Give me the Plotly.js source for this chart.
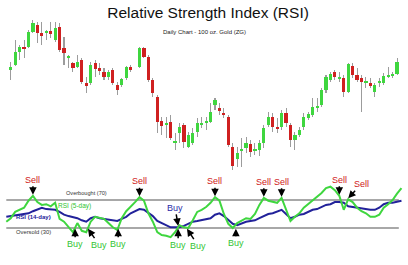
<!DOCTYPE html>
<html><head><meta charset="utf-8">
<script src="https://cdn.plot.ly/plotly-3.0.1.min.js"></script>
<style>html,body{margin:0;padding:0;background:#fff}#chart{width:408px;height:265px}</style>
</head><body><div id="chart"></div>
<script>
// Daily candles (trading-day index; day 29 had no bar)
const days  = [1,2,3,4,5,6,7,8,9,10,11,12,13,14,15,16,17,18,19,20,21,22,23,24,25,26,27,28,
               30,31,32,33,34,35,36,37,38,39,40,41,42,43,44,45,46,47,48,49,50,51,52,53,54,55,56,57,58,59,
               60,61,62,63,64,65,66,67,68,69,70,71,72,73,74,75,76,77,78,79,80,81,82,83,84,85,86,87,88];
const open  = [930,935,948,953,953,968,975,967,967,969,960,973,952,942,937,933,940,917,917,937,932,928,923,930,915,915,922,933,
               933,952,943,920,903,879,875,878,857,867,875,853,857,868,875,877,878,895,892,887,883,853,841,849,852,856,849,850,857,875,
               883,873,873,887,875,860,865,873,882,885,892,895,910,920,928,921,922,908,934,925,922,917,917,908,917,917,923,924,926];
const high  = [938,960,955,960,970,980,978,978,970,978,978,977,963,945,938,945,942,923,938,940,937,932,930,932,918,922,934,935,
               953,953,945,922,905,883,883,885,867,877,877,868,872,882,883,883,897,902,897,892,885,857,853,862,863,860,857,860,875,888,
               887,882,890,892,877,868,873,887,888,902,902,912,925,928,930,928,925,937,937,932,925,923,922,917,922,927,933,928,942];
const low   = [920,934,940,942,952,967,957,955,960,962,958,948,935,932,928,932,916,907,915,923,925,920,920,915,905,913,920,928,
               932,942,918,903,867,865,862,860,850,857,852,852,855,863,872,870,877,890,885,882,853,830,833,833,847,843,845,844,852,873,
               868,867,870,873,853,850,863,870,880,883,888,893,907,918,920,918,903,907,922,918,888,912,912,903,913,915,922,922,925];
const close = [933,948,953,951,968,977,967,964,968,966,972,950,947,943,932,938,918,914,935,931,929,923,928,917,910,921,933,930,
               952,943,920,907,878,874,877,862,859,873,858,865,867,877,877,878,888,900,889,885,855,834,847,851,857,848,851,857,872,883,
               873,871,887,877,860,865,870,883,886,893,894,910,923,926,923,923,908,936,925,920,918,918,914,915,918,924,925,925,938];

// RSI readings, one per day from day 0 to day 89
const rsi5  = [39,44,53,56,59,69,76,67,63,64, 61,66,43,39,31,24,37,26,24,39, 46,44,43,37,31,27,44,54,60,67,
               74,69,51,39,24,20,19,17,24,34, 31,30,41,53,56,60,66,74,69,50, 36,30,37,41,44,43,50,63,73,69,
               67,66,73,56,40,46,51,59,64,70, 74,80,87,89,84,76,56,71,67,59, 54,51,46,46,49,59,64,70,79,87];
const rsi14 = [46,47,49,49,50,51,54,57,59,57, 56,56,53,49,47,46,44,41,39,44, 46,44,43,41,41,40,43,46,51,54,
               57,56,51,47,40,37,34,31,31,31, 33,36,39,40,41,43,44,49,51,47, 41,36,34,37,39,40,41,44,47,50,
               51,54,56,50,44,46,49,50,53,56, 57,60,63,64,67,67,66,61,60,59, 57,56,56,56,59,64,66,66,67,69];
const levels = [70, 30];
const sellDays = [6, 30, 47, 58, 62, 75, 77];
const buyDays  = [15.5, 18.4, 25.2, 38.7, 40.7, 51.7];
const blueBuyDay = 38.7;

const rsiDays = rsi5.map((_, i) => i);
const isUp = close.map((c, i) => c >= open[i]);
const bodyBase = close.map((c, i) => Math.min(c, open[i]));
const bodyLen = close.map((c, i) => Math.max(Math.abs(c - open[i]), 1.5));
const wickLen = high.map((h, i) => h - low[i]);

const GREEN = '#3fd63f', RED = '#cf2020', NAVY = '#22229a';
const FONT = 'Liberation Sans, Arial, sans-serif';

const traces = [
  {type:'bar', x:days, y:wickLen, base:low, width:0.24, marker:{color:'#9c9c9c'}, xaxis:'x', yaxis:'y', hoverinfo:'skip'},
  {type:'bar', x:days, y:bodyLen, base:bodyBase, width:0.72,
   marker:{color:isUp.map(u => u ? GREEN : RED)}, xaxis:'x', yaxis:'y'},
  {type:'scatter', mode:'lines', x:rsiDays, y:rsi14, line:{color:NAVY, width:2}, xaxis:'x', yaxis:'y2'},
  {type:'scatter', mode:'lines', x:rsiDays, y:rsi5, line:{color:GREEN, width:2}, xaxis:'x', yaxis:'y2'}
];

const ann = [];
ann.push({xref:'paper', yref:'paper', x:0.501, y:0.898, text:'Daily Chart - 100 oz. Gold (ZG)', showarrow:false,
          font:{family:FONT, size:6, color:'#222'}});
ann.push({xref:'x', yref:'y2', x:17.95, y:80, text:'Overbought (70)', showarrow:false, font:{family:FONT, size:5.6, color:'#333'}});
ann.push({xref:'x', yref:'y2', x:6.2, y:24.3, text:'Oversold (30)', showarrow:false, font:{family:FONT, size:5.8, color:'#333'}});
ann.push({xref:'x', yref:'y2', x:15.4, y:61.4, text:'RSI (5-day)', showarrow:false, font:{family:FONT, size:6.5, color:'#2fc42f'}});
ann.push({xref:'x', yref:'y2', x:6.1, y:45.7, text:'<b>RSI (14-day)</b>', showarrow:false, font:{family:FONT, size:6, color:NAVY}});

const arrowStyle = {showarrow:true, arrowhead:2, arrowsize:1, arrowwidth:1.5, arrowcolor:'#000', standoff:0};
sellDays.forEach((d, i) => {
  const last = i === sellDays.length - 1;
  ann.push(Object.assign({xref:'x', yref:'y2', x:d, y:rsi5[d] + 1.5, ax:last ? 13 : 0, ay:last ? -14 : -15,
    text:'Sell', font:{family:FONT, size:9, color:RED}}, arrowStyle));
});
const buyOffsets = [[0,15],[11,16],[0,15],[0,16],[11,17],[0,14]];
buyDays.forEach((d, i) => {
  ann.push(Object.assign({xref:'x', yref:'y2', x:d, y:29, ax:buyOffsets[i][0], ay:buyOffsets[i][1],
    text:'Buy', font:{family:FONT, size:9, color:'#34c434'}}, arrowStyle));
});
ann.push(Object.assign({xref:'x', yref:'y2', x:blueBuyDay, y:33, ax:-3, ay:-18,
  text:'Buy', font:{family:FONT, size:9, color:'#2a2aa8'}}, arrowStyle));

const shapes = levels.map(v => ({type:'line', xref:'x', yref:'y2', x0:0, x1:88.4, y0:v, y1:v,
  line:{color:'#a8a8a8', width:2}, layer:'below'}));

const hidden = {showgrid:false, zeroline:false, showticklabels:false, showline:false, ticks:'', fixedrange:true};
const layout = {
  width:408, height:265, margin:{l:0, r:0, t:0, b:0}, paper_bgcolor:'#fff', plot_bgcolor:'rgba(0,0,0,0)',
  showlegend:false, barmode:'overlay', bargap:0,
  title:{text:'Relative Strength Index (RSI)', x:0.51, y:0.951, xanchor:'center', yanchor:'middle',
         font:{family:FONT, size:15.5, color:'#111'}},
  xaxis:Object.assign({range:[-1.42, 90.47], rangeslider:{visible:false}}, hidden),
  yaxis:Object.assign({domain:[0.3396, 0.9434], range:[825, 985]}, hidden),
  yaxis2:Object.assign({domain:[0, 0.3396], range:[-22.86, 105.71], anchor:'x'}, hidden),
  annotations:ann, shapes:shapes
};
Plotly.newPlot('chart', traces, layout, {staticPlot:true, displayModeBar:false});
</script></body></html>
